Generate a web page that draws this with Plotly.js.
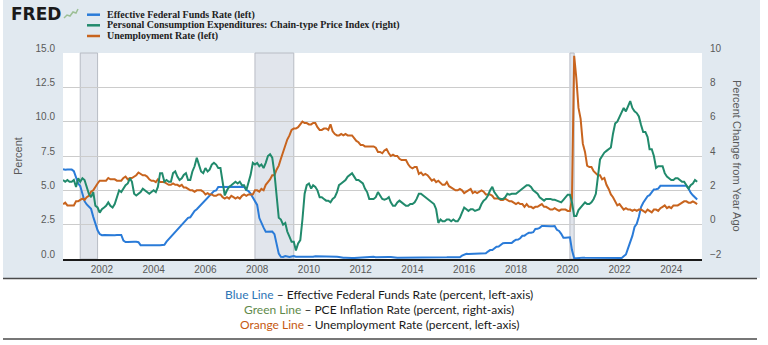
<!DOCTYPE html>
<html>
<head>
<meta charset="utf-8">
<script src="https://cdn.plot.ly/plotly-3.0.1.min.js"></script>
<style>
  html, body { margin: 0; padding: 0; background: #fff; }
  #chart { width: 768px; height: 345px; }
</style>
</head>
<body>
<div id="chart"></div>
<script>
// monthly observations, first one is July 2000, last one January 2025
const firstYear = 2000, firstMonth = 7;

// Effective Federal Funds Rate, percent (left axis)
const fedFunds = [
  6.54, 6.50, 6.52, 6.51, 6.51, 6.40,
  5.98, 5.49, 5.31, 4.80, 4.21, 3.97, 3.77, 3.65, 3.07, 2.49, 2.09, 1.82,
  1.73, 1.74, 1.73, 1.75, 1.75, 1.75, 1.73, 1.74, 1.75, 1.75, 1.34, 1.24,
  1.24, 1.26, 1.25, 1.26, 1.26, 1.22, 1.01, 1.03, 1.01, 1.01, 1.00, 0.98,
  1.00, 1.01, 1.00, 1.00, 1.00, 1.03, 1.26, 1.43, 1.61, 1.76, 1.93, 2.16,
  2.28, 2.50, 2.63, 2.79, 3.00, 3.04, 3.26, 3.50, 3.62, 3.78, 4.00, 4.16,
  4.29, 4.49, 4.59, 4.79, 4.94, 4.99, 5.24, 5.25, 5.25, 5.25, 5.25, 5.24,
  5.25, 5.26, 5.26, 5.25, 5.25, 5.25, 5.26, 5.02, 4.94, 4.76, 4.49, 4.24,
  3.94, 2.98, 2.61, 2.28, 1.98, 2.00, 2.01, 2.00, 1.81, 0.97, 0.39, 0.16,
  0.15, 0.22, 0.18, 0.15, 0.18, 0.21, 0.16, 0.16, 0.15, 0.12, 0.12, 0.12,
  0.11, 0.13, 0.16, 0.20, 0.20, 0.18, 0.18, 0.19, 0.19, 0.19, 0.19, 0.18,
  0.17, 0.16, 0.14, 0.10, 0.09, 0.09, 0.07, 0.10, 0.08, 0.07, 0.08, 0.07,
  0.08, 0.10, 0.13, 0.14, 0.16, 0.16, 0.16, 0.13, 0.14, 0.16, 0.16, 0.16,
  0.14, 0.15, 0.14, 0.15, 0.11, 0.09, 0.09, 0.08, 0.08, 0.09, 0.08, 0.09,
  0.07, 0.07, 0.08, 0.09, 0.09, 0.10, 0.09, 0.09, 0.09, 0.09, 0.09, 0.12,
  0.11, 0.11, 0.11, 0.12, 0.12, 0.13, 0.13, 0.14, 0.14, 0.12, 0.12, 0.24,
  0.34, 0.38, 0.36, 0.37, 0.37, 0.38, 0.39, 0.40, 0.40, 0.40, 0.41, 0.54,
  0.65, 0.66, 0.79, 0.90, 0.91, 1.04, 1.15, 1.16, 1.15, 1.15, 1.16, 1.30,
  1.41, 1.42, 1.51, 1.69, 1.70, 1.82, 1.91, 1.91, 1.95, 2.19, 2.20, 2.27,
  2.40, 2.40, 2.41, 2.42, 2.39, 2.38, 2.40, 2.13, 2.04, 1.83, 1.55, 1.55,
  1.55, 1.58, 0.65, 0.05, 0.05, 0.08, 0.09, 0.10, 0.09, 0.09, 0.09, 0.09,
  0.09, 0.08, 0.07, 0.07, 0.06, 0.08, 0.10, 0.09, 0.08, 0.08, 0.08, 0.08,
  0.08, 0.08, 0.20, 0.33, 0.77, 1.21, 1.68, 2.33, 2.56, 3.08, 3.78, 4.10,
  4.33, 4.57, 4.65, 4.83, 5.06, 5.08, 5.12, 5.33, 5.33, 5.33, 5.33, 5.33,
  5.33, 5.33, 5.33, 5.33, 5.33, 5.33, 5.33, 5.33, 5.13, 4.83, 4.64, 4.48,
  4.33
];

// PCE chain-type price index, percent change from year ago (right axis)
const pceInflation = [
  2.6, 2.5, 2.6, 2.5, 2.5, 2.6,
  2.2, 2.7, 2.5, 2.7, 2.6, 2.2, 1.8, 1.6, 1.9, 1.1, 1.0, 0.7,
  0.9, 1.0, 1.1, 1.3, 1.1, 1.0, 1.2, 1.6, 2.0, 1.9, 2.1, 2.3,
  2.4, 2.7, 2.5, 1.8, 1.7, 1.8, 1.9, 2.1, 2.0, 1.9, 1.8, 1.9,
  2.0, 1.9, 2.2, 3.0, 3.0, 2.5, 2.6, 2.5, 2.5, 3.0, 3.1, 2.8,
  2.6, 2.7, 2.9, 3.0, 2.6, 2.6, 3.1, 3.4, 3.9, 3.5, 3.1, 3.0,
  3.3, 3.1, 3.2, 3.5, 3.6, 3.5, 3.3, 3.3, 2.5, 1.7, 2.0, 2.2,
  2.3, 2.4, 2.5, 2.4, 2.5, 2.3, 2.3, 2.0, 2.4, 2.9, 3.6, 3.5,
  3.6, 3.4, 3.5, 3.3, 3.6, 4.0, 4.1, 3.9, 3.0, 1.8, 0.4, 0.3,
  0.0, 0.1, -0.4, -0.7, -1.0, -1.0, -1.5, -1.1, -0.9, 0.3, 1.8, 2.3,
  2.4, 2.1, 2.3, 2.2, 2.0, 1.6, 1.6, 1.5, 1.4, 1.4, 1.3, 1.5,
  1.6, 1.9, 2.3, 2.4, 2.5, 2.6, 2.8, 2.9, 3.0, 2.8, 2.6, 2.6,
  2.5, 2.4, 2.1, 1.9, 1.5, 1.5, 1.5, 1.6, 1.9, 1.7, 1.5, 1.45,
  1.5, 1.6, 1.3, 1.1, 1.1, 1.3, 1.4, 1.3, 1.2, 1.1, 1.1, 1.2,
  1.2, 1.3, 1.5, 1.8, 1.8, 1.7, 1.65, 1.5, 1.4, 1.35, 1.2, 0.9,
  0.1, 0.3, 0.2, 0.2, 0.3, 0.3, 0.2, 0.3, 0.2, 0.2, 0.4, 0.7,
  1.0, 0.9, 0.8, 0.9, 0.9, 0.8, 0.85, 0.9, 1.2, 1.4, 1.5, 1.7,
  2.0, 2.2, 1.9, 1.7, 1.55, 1.5, 1.5, 1.6, 1.8, 1.75, 1.8, 1.8,
  1.8, 1.9, 2.0, 2.1, 2.2, 2.3, 2.3, 2.2, 2.0, 1.9, 1.8, 1.6,
  1.5, 1.4, 1.5, 1.5, 1.5, 1.45, 1.45, 1.4, 1.35, 1.3, 1.45, 1.6,
  1.75, 1.75, 1.3, 0.5, 0.5, 0.85, 1.0, 1.2, 1.3, 1.2, 1.2, 1.3,
  1.5, 1.8, 2.7, 3.8, 4.0, 4.2, 4.3, 4.4, 4.5, 5.3, 5.9, 6.0,
  6.3, 6.5, 6.8, 6.6, 6.9, 7.2, 6.8, 6.6, 6.5, 6.3, 5.8, 5.4,
  5.4, 5.1, 4.4, 4.4, 4.0, 3.3, 3.4, 3.4, 3.4, 3.0, 2.8, 2.7,
  2.6, 2.6, 2.7, 2.7, 2.6, 2.5, 2.5, 2.3, 2.1, 2.3, 2.4, 2.6,
  2.5
];

// Unemployment Rate, percent (left axis)
const unemployment = [
  4.0, 4.1, 3.9, 3.9, 3.9, 3.9,
  4.2, 4.2, 4.3, 4.4, 4.3, 4.5, 4.6, 4.9, 5.0, 5.3, 5.5, 5.7,
  5.7, 5.7, 5.7, 5.9, 5.8, 5.8, 5.8, 5.7, 5.7, 5.7, 5.9, 6.0,
  5.8, 5.9, 5.9, 6.0, 6.1, 6.3, 6.2, 6.1, 6.1, 6.0, 5.8, 5.7,
  5.7, 5.6, 5.8, 5.6, 5.6, 5.6, 5.5, 5.4, 5.4, 5.5, 5.4, 5.4,
  5.3, 5.4, 5.2, 5.2, 5.1, 5.0, 5.0, 4.9, 5.0, 5.0, 5.0, 4.9,
  4.7, 4.8, 4.7, 4.7, 4.6, 4.6, 4.7, 4.7, 4.5, 4.4, 4.5, 4.4,
  4.6, 4.5, 4.4, 4.5, 4.4, 4.6, 4.7, 4.6, 4.7, 4.7, 4.7, 5.0,
  5.0, 4.9, 5.1, 5.0, 5.4, 5.6, 5.8, 6.1, 6.1, 6.5, 6.8, 7.3,
  7.8, 8.3, 8.7, 9.0, 9.4, 9.5, 9.5, 9.6, 9.8, 10.0, 9.9, 9.9,
  9.8, 9.8, 9.9, 9.9, 9.6, 9.4, 9.4, 9.5, 9.5, 9.4, 9.8, 9.3,
  9.1, 9.0, 9.0, 9.1, 9.0, 9.1, 9.0, 9.0, 9.0, 8.8, 8.6, 8.5,
  8.3, 8.3, 8.2, 8.2, 8.2, 8.2, 8.2, 8.1, 7.8, 7.8, 7.7, 7.9,
  8.0, 7.7, 7.5, 7.6, 7.5, 7.5, 7.3, 7.2, 7.2, 7.2, 6.9, 6.7,
  6.6, 6.7, 6.7, 6.2, 6.3, 6.1, 6.2, 6.1, 5.9, 5.7, 5.8, 5.6,
  5.7, 5.5, 5.4, 5.4, 5.6, 5.3, 5.2, 5.1, 5.0, 5.0, 5.1, 5.0,
  4.8, 4.9, 5.0, 5.1, 4.8, 4.9, 4.8, 4.9, 5.0, 4.9, 4.7, 4.7,
  4.7, 4.6, 4.4, 4.4, 4.4, 4.3, 4.3, 4.4, 4.3, 4.2, 4.2, 4.1,
  4.0, 4.1, 4.0, 4.0, 3.8, 4.0, 3.8, 3.8, 3.7, 3.8, 3.8, 3.9,
  4.0, 3.8, 3.8, 3.7, 3.6, 3.6, 3.7, 3.6, 3.5, 3.6, 3.6, 3.6,
  3.5, 3.5, 4.4, 14.8, 13.2, 11.0, 10.2, 8.4, 7.8, 6.8, 6.7, 6.7,
  6.4, 6.2, 6.1, 6.1, 5.8, 5.9, 5.4, 5.1, 4.7, 4.5, 4.2, 3.9,
  4.0, 3.8, 3.6, 3.7, 3.6, 3.6, 3.5, 3.6, 3.5, 3.6, 3.6, 3.5,
  3.4, 3.6, 3.5, 3.4, 3.6, 3.6, 3.5, 3.7, 3.8, 3.9, 3.7, 3.8,
  3.7, 3.9, 3.9, 3.9, 4.0, 4.1, 4.2, 4.2, 4.1, 4.1, 4.2, 4.1,
  4.0
];

// NBER recessions (start, end)
const recessions = [
  ["2001-03-01", "2001-11-01"],
  ["2007-12-01", "2009-06-01"],
  ["2020-02-01", "2020-04-01"]
];

const legendLabels = [
  "Effective Federal Funds Rate (left)",
  "Personal Consumption Expenditures: Chain-type Price Index (right)",
  "Unemployment Rate (left)"
];

const captionLines = [
  ["Blue Line", " \u2013 Effective Federal Funds Rate (percent, left-axis)"],
  ["Green Line", " \u2013 PCE Inflation Rate (percent, right-axis)"],
  ["Orange Line", " - Unemployment Rate (percent, left-axis)"]
];

const lineColors = ["#2a7bd8", "#218a6c", "#c8641e"];
const captionColors = ["#2e75b6", "#5f8a4b", "#c65911"];

const dates = fedFunds.map((_, i) => {
  let m = firstMonth - 1 + i;
  let y = firstYear + Math.floor(m / 12);
  let mm = (m % 12) + 1;
  return `${y}-${String(mm).padStart(2, "0")}-01`;
});

// plot area in pixels, used to place the decorations
const L = 63, R = 702, T = 53, B = 259;
const px = (p) => (p - L) / (R - L);
const py = (p) => (B - p) / (B - T);

let traces = [
  {x: dates, y: fedFunds, name: legendLabels[0], type: "scatter", mode: "lines",
   line: {color: lineColors[0], width: 2}, yaxis: "y"},
  {x: dates, y: unemployment, name: legendLabels[2], type: "scatter", mode: "lines",
   line: {color: lineColors[2], width: 2}, yaxis: "y"},
  {x: dates, y: pceInflation, name: legendLabels[1], type: "scatter", mode: "lines",
   line: {color: lineColors[1], width: 2}, yaxis: "y2"},
];

let shapes = [
  {type: "rect", xref: "paper", yref: "paper", x0: px(3), x1: px(760), y0: py(278), y1: py(0),
   fillcolor: "#e1e9f0", line: {width: 0}, layer: "below"},
  {type: "rect", xref: "paper", yref: "paper", x0: 0, x1: 1, y0: 0, y1: 1,
   fillcolor: "#ffffff", line: {width: 0}, layer: "below"},
];
recessions.forEach(([a, b]) => {
  shapes.push({type: "rect", xref: "x", yref: "paper", x0: a, x1: b, y0: 0, y1: 1,
    fillcolor: "#e1e5ec", line: {color: "#b8bcc4", width: 1}, layer: "below"});
});
// caption box rules
[278.5, 339].forEach((yy) => {
  shapes.push({type: "line", xref: "paper", yref: "paper", x0: px(3), x1: px(757), y0: py(yy), y1: py(yy),
    line: {color: "#4a4a4a", width: 1.5}});
});
// legend swatches
[14.7, 25.3, 36].forEach((yy, i) => {
  shapes.push({type: "line", xref: "paper", yref: "paper", x0: px(87), x1: px(100), y0: py(yy), y1: py(yy),
    line: {color: lineColors[i], width: 2.5}});
});
// little graph icon next to the FRED logo
let icon = [[64, 18], [67, 15], [70, 16], [73, 12], [76, 13], [78, 9]];
shapes.push({type: "path", xref: "paper", yref: "paper",
  path: icon.map((p, i) => (i ? "L" : "M") + px(p[0]) + "," + py(p[1])).join(" "),
  line: {color: "#9dbf95", width: 1.5}});

let annotations = [
  {text: "<b>FRED</b>", x: px(9), y: py(14), xanchor: "left", yanchor: "middle",
   font: {family: "DejaVu Sans", size: 17, color: "#1a1a1a"}},
  {text: "Percent", x: px(18), y: py(156), textangle: -90, xanchor: "center", yanchor: "middle",
   font: {family: "Liberation Sans", size: 11, color: "#595959"}},
  {text: "Percent Change from Year Ago", x: px(737), y: py(156), textangle: 90,
   xanchor: "center", yanchor: "middle",
   font: {family: "Liberation Sans", size: 11, color: "#595959"}},
];
[14.7, 25.3, 36].forEach((yy, i) => {
  annotations.push({text: "<b>" + legendLabels[i] + "</b>", x: px(105), y: py(yy),
    xanchor: "left", yanchor: "middle",
    font: {family: "Liberation Serif", size: 10, color: "#222"}});
});
[294, 309.3, 324].forEach((yy, i) => {
  annotations.push({
    text: `<span style="color:${captionColors[i]}">${captionLines[i][0]}</span>${captionLines[i][1]}`,
    x: px(379), y: py(yy), xanchor: "center", yanchor: "middle",
    font: {family: "Lato", size: 12, color: "#1a1a1a"}});
});
annotations.forEach((a) => { a.xref = "paper"; a.yref = "paper"; a.showarrow = false; });

const tickFont = {family: "Liberation Sans", size: 10, color: "#595959"};

Plotly.newPlot("chart", traces, {
  width: 768,
  height: 345,
  margin: {l: L, r: 768 - R, t: T, b: 345 - B},
  paper_bgcolor: "#ffffff",
  plot_bgcolor: "#ffffff",
  showlegend: false,
  xaxis: {
    type: "date",
    range: ["2000-07-01", "2025-03-10"],
    tick0: "2002-01-01",
    dtick: "M24",
    tickformat: "%Y",
    showgrid: false,
    zeroline: false,
    showline: true,
    linecolor: "#1a1a1a",
    linewidth: 2,
    ticks: "",
    tickfont: tickFont,
  },
  yaxis: {
    range: [0, 15],
    dtick: 2.5,
    tickformat: ".1f",
    gridcolor: "#cccccc",
    gridwidth: 1,
    zeroline: false,
    showline: false,
    ticks: "",
    tickfont: tickFont,
    ticklabelstandoff: 7,
    ticklabelshift: -5,
  },
  yaxis2: {
    overlaying: "y",
    side: "right",
    range: [-2, 10],
    dtick: 2,
    showgrid: false,
    zeroline: false,
    showline: false,
    ticks: "",
    tickfont: tickFont,
    ticklabelstandoff: 7,
    ticklabelshift: -5,
  },
  shapes: shapes,
  annotations: annotations,
}, {displayModeBar: false});
</script>
</body>
</html>
